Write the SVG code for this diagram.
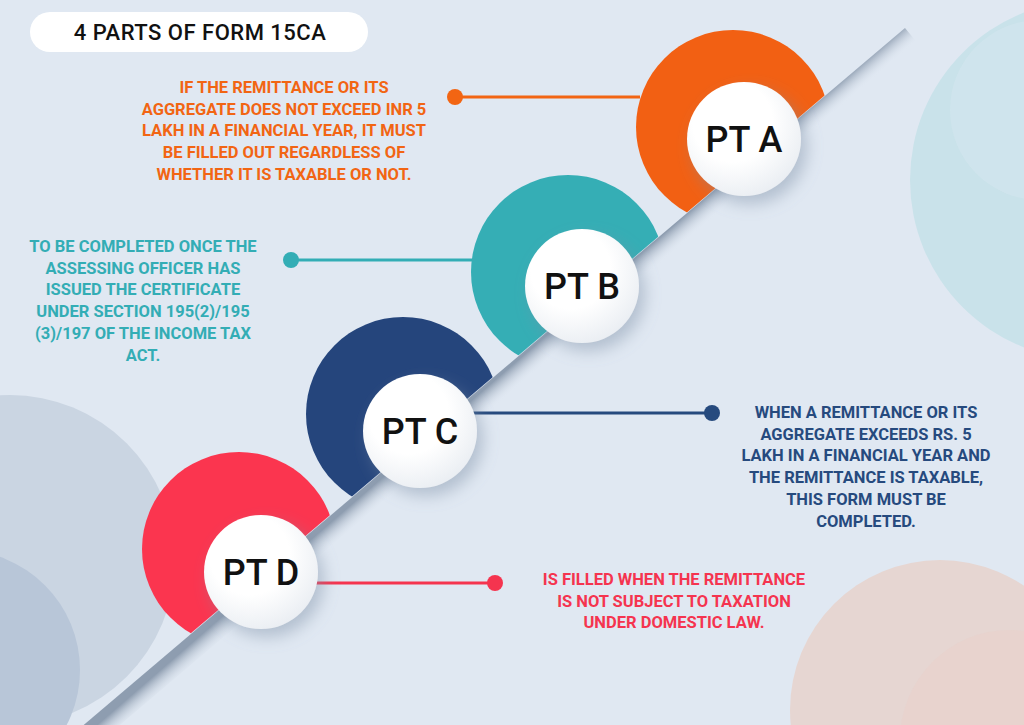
<svg xmlns="http://www.w3.org/2000/svg" width="1024" height="725" viewBox="0 0 1024 725">
<defs>
<style>
.t{font-family:Roboto,"Liberation Sans",sans-serif;font-weight:700;font-size:16.5px;text-anchor:middle}
.lbl{font-family:Roboto,"Liberation Sans",sans-serif;font-weight:500;font-size:36px;text-anchor:middle;fill:#111}
.ln{stroke-width:3;fill:none}
</style>
<radialGradient id="wg" cx="0.4" cy="0.35" r="0.7"><stop offset="0.5" stop-color="#ffffff"/><stop offset="1" stop-color="#e9edf2"/></radialGradient>
<linearGradient id="sh" gradientUnits="userSpaceOnUse" x1="757" y1="153" x2="770" y2="168"><stop offset="0" stop-color="#8e9db0"/><stop offset="1" stop-color="#e0e8f2" stop-opacity="0"/></linearGradient>
<filter id="ds" x="-50%" y="-50%" width="200%" height="200%"><feDropShadow dx="6" dy="8" stdDeviation="8" flood-color="#7d8ea5" flood-opacity="0.45"/></filter>
<clipPath id="above"><polygon points="0,795 757,153 1024,-74 0,-74"/></clipPath>
</defs>
<rect width="1024" height="725" fill="#e0e8f2"/>
<g id="bg">
<circle cx="1090" cy="180" r="180" fill="#c9e2ea"/>
<circle cx="1040" cy="110" r="90" fill="#d3e6ee" opacity="0.6"/>
<circle cx="10" cy="560" r="165" fill="#cad5e2"/>
<circle cx="-40" cy="670" r="120" fill="#b8c6d8"/>
<circle cx="940" cy="710" r="150" fill="#e6d6d2"/>
<circle cx="1010" cy="740" r="110" fill="#e8d2cc" opacity="0.7"/>
</g>
<polygon points="0,796 905,28 920,46 15,814" fill="url(#sh)"/>
<g id="header"><rect x="30" y="12" width="338" height="40" rx="20" fill="#fff"/><text x="200" y="40" style="font-family:Roboto,'Liberation Sans',sans-serif;font-weight:500;font-size:22px;text-anchor:middle;letter-spacing:0.5px" fill="#111">4 PARTS OF FORM 15CA</text></g>
<g id="connectors">
<line class="ln" x1="455" y1="97" x2="640" y2="97" stroke="#f26513"/><circle cx="455" cy="97" r="8" fill="#f26513"/>
<line class="ln" x1="291" y1="260" x2="476" y2="260" stroke="#33adb5"/><circle cx="291" cy="260" r="8" fill="#33adb5"/>
<line class="ln" x1="460" y1="413" x2="712" y2="413" stroke="#264a7e"/><circle cx="712" cy="413" r="8" fill="#264a7e"/>
<line class="ln" x1="315" y1="583" x2="495" y2="583" stroke="#f5344f"/><circle cx="495" cy="583" r="8" fill="#f5344f"/>
</g>
<g id="ptA"><circle cx="733" cy="127" r="97" fill="#f26013" clip-path="url(#above)"/><circle cx="744" cy="139" r="57" fill="url(#wg)" filter="url(#ds)"/><text class="lbl" x="744" y="152">PT A</text>
<text class="t" fill="#f26513" x="284" y="93">IF THE REMITTANCE OR ITS<tspan x="284" dy="21.7">AGGREGATE DOES NOT EXCEED INR 5</tspan><tspan x="284" dy="21.7">LAKH IN A FINANCIAL YEAR, IT MUST</tspan><tspan x="284" dy="21.7">BE FILLED OUT REGARDLESS OF</tspan><tspan x="284" dy="21.7">WHETHER IT IS TAXABLE OR NOT.</tspan></text></g>
<g id="ptB"><circle cx="568" cy="272" r="97" fill="#35aeb5" clip-path="url(#above)"/><circle cx="582" cy="286" r="57" fill="url(#wg)" filter="url(#ds)"/><text class="lbl" x="582" y="299">PT B</text>
<text class="t" fill="#33adb5" x="143" y="252">TO BE COMPLETED ONCE THE<tspan x="143" dy="21.7">ASSESSING OFFICER HAS</tspan><tspan x="143" dy="21.7">ISSUED THE CERTIFICATE</tspan><tspan x="143" dy="21.7">UNDER SECTION 195(2)/195</tspan><tspan x="143" dy="21.7">(3)/197 OF THE INCOME TAX</tspan><tspan x="143" dy="21.7">ACT.</tspan></text></g>
<g id="ptC"><circle cx="403" cy="414" r="97" fill="#25457c" clip-path="url(#above)"/><circle cx="420" cy="431" r="57" fill="url(#wg)" filter="url(#ds)"/><text class="lbl" x="420" y="444">PT C</text>
<text class="t" fill="#264a7e" x="866" y="418">WHEN A REMITTANCE OR ITS<tspan x="866" dy="21.7">AGGREGATE EXCEEDS RS. 5</tspan><tspan x="866" dy="21.7">LAKH IN A FINANCIAL YEAR AND</tspan><tspan x="866" dy="21.7">THE REMITTANCE IS TAXABLE,</tspan><tspan x="866" dy="21.7">THIS FORM MUST BE</tspan><tspan x="866" dy="21.7">COMPLETED.</tspan></text></g>
<g id="ptD"><circle cx="239" cy="549" r="97" fill="#fb354f" clip-path="url(#above)"/><circle cx="261" cy="572" r="57" fill="url(#wg)" filter="url(#ds)"/><text class="lbl" x="261" y="585">PT D</text>
<text class="t" fill="#f5344f" x="674" y="585">IS FILLED WHEN THE REMITTANCE<tspan x="674" dy="21.7">IS NOT SUBJECT TO TAXATION</tspan><tspan x="674" dy="21.7">UNDER DOMESTIC LAW.</tspan></text></g>
</svg>
